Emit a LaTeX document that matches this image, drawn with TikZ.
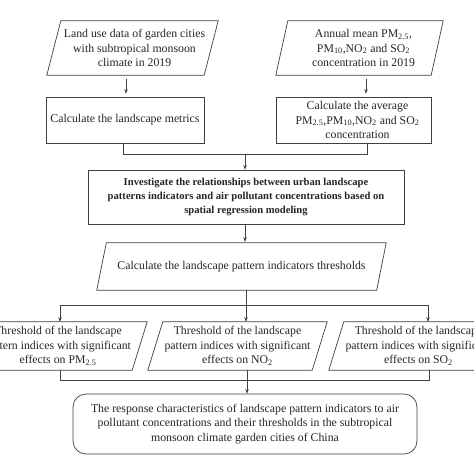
\documentclass[tikz,border=0pt]{standalone}
\usepackage{fontspec}
\setmainfont{Liberation Serif}
\usetikzlibrary{arrows.meta,calc}
\newcommand\paraout[2]{\draw[ln] ([xshift=#2]#1.north west) -- (#1.north east) -- ([xshift=-#2]#1.south east) -- (#1.south west) -- cycle;}
\tikzset{
  ln/.style={draw=black!75, line width=0.7pt},
  arr/.style={ln, -{Stealth[length=4.5pt,width=3.5pt]}},
  txt/.style={align=center, inner sep=0pt, font=\fontsize{11.8}{14.3}\selectfont, text=black!85},
  pbox/.style={txt, draw=none},
  rbox/.style={txt, ln, draw=black!75},
}
\begin{document}
\begin{tikzpicture}[x=1pt,y=-1pt]
\fill[white] (0,0) rectangle (474,474);
\useasboundingbox (0,0) rectangle (474,474);
\clip (0,0) rectangle (474,474);

% inputs
\node[pbox, minimum width=171pt, minimum height=54pt] (in1) at (132.5,48)
  {\hspace*{4pt}Land use data of garden cities\\\hspace*{4pt}with subtropical monsoon\\\hspace*{4pt}climate in 2019};
\paraout{in1}{14pt}
\node[pbox, minimum width=167pt, minimum height=54pt] (in2) at (359.5,48)
  {\hspace*{8pt}Annual mean PM\textsubscript{2.5},\\\hspace*{8pt}PM\textsubscript{10},NO\textsubscript{2} and SO\textsubscript{2}\\\hspace*{8pt}concentration in 2019};
\paraout{in2}{12pt}

% calculation boxes
\node[rbox, minimum width=158pt, minimum height=46pt] (m1) at (125,120)
  {Calculate the landscape metrics};
\node[rbox, minimum width=155pt, minimum height=46pt] (m2) at (353.5,120)
  {\hspace*{8pt}Calculate the average\\\hspace*{8pt}PM\textsubscript{2.5},PM\textsubscript{10},NO\textsubscript{2} and SO\textsubscript{2}\\\hspace*{8pt}concentration};

% investigation
\node[rbox, minimum width=316pt, minimum height=54pt, font=\fontsize{10.6}{14}\selectfont\bfseries] (inv) at (246,197)
  {Investigate the relationships between urban landscape\\patterns indicators and air pollutant concentrations based on\\spatial regression modeling};

% thresholds
\node[pbox, minimum width=289pt, minimum height=47pt] (thr) at (241.5,266.5)
  {Calculate the landscape pattern indicators thresholds};
\paraout{thr}{9.5pt}

\node[pbox, minimum width=178pt, minimum height=48pt] (t1) at (58,346)
  {Threshold of the landscape\\pattern indices with significant\\effects on PM\textsubscript{2.5}};
\paraout{t1}{15pt}
\node[pbox, minimum width=179pt, minimum height=48pt] (t2) at (237.5,346)
  {Threshold of the landscape\\pattern indices with significant\\effects on NO\textsubscript{2}};
\paraout{t2}{15pt}
\node[pbox, minimum width=179pt, minimum height=48pt] (t3) at (418.5,346)
  {Threshold of the landscape\\pattern indices with significant\\effects on SO\textsubscript{2}};
\paraout{t3}{15pt}

% result
\node[rbox, rounded corners=13pt, minimum width=344pt, minimum height=60pt] (res) at (245,424)
  {The response characteristics of landscape pattern indicators to air\\pollutant concentrations and their thresholds in the subtropical\\monsoon climate garden cities of China};

% connectors
\coordinate (a1) at (126,0);
\coordinate (a2) at (366,0);
\draw[arr, shorten <=4pt, shorten >=3pt] (a1 |- in1.south) -- (a1 |- m1.north);
\draw[arr, shorten <=4pt, shorten >=3pt] (a2 |- in2.south) -- (a2 |- m2.north);

\coordinate (j1) at (245,154);
\coordinate (ja) at (123,154);
\coordinate (jb) at (367,154);
\draw[ln] (ja |- m1.south) -- (ja) -- (jb) -- (jb |- m2.south);
\draw[arr] (j1) -- (j1 |- inv.north);

\coordinate (k1) at (245,0);
\draw[arr, shorten >=1pt] (k1 |- inv.south) -- (k1 |- thr.north);

\coordinate (b1) at (60,305);
\coordinate (b2) at (246,305);
\coordinate (b3) at (428,305);
\draw[ln] (b2 |- thr.south) -- (b2);
\draw[ln] (b1) -- (b3);
\draw[arr] (b1) -- (b1 |- t1.north);
\draw[arr] (b2) -- (b2 |- t2.north);
\draw[arr] (b3) -- (b3 |- t3.north);

\coordinate (c1) at (60,380);
\coordinate (c2) at (247,380);
\coordinate (c3) at (429,380);
\draw[ln] (c1 |- t1.south) -- (c1) -- (c3) -- (c3 |- t3.south);
\draw[arr] (c2 |- t2.south) -- (c2 |- res.north);
\end{tikzpicture}
\end{document}
